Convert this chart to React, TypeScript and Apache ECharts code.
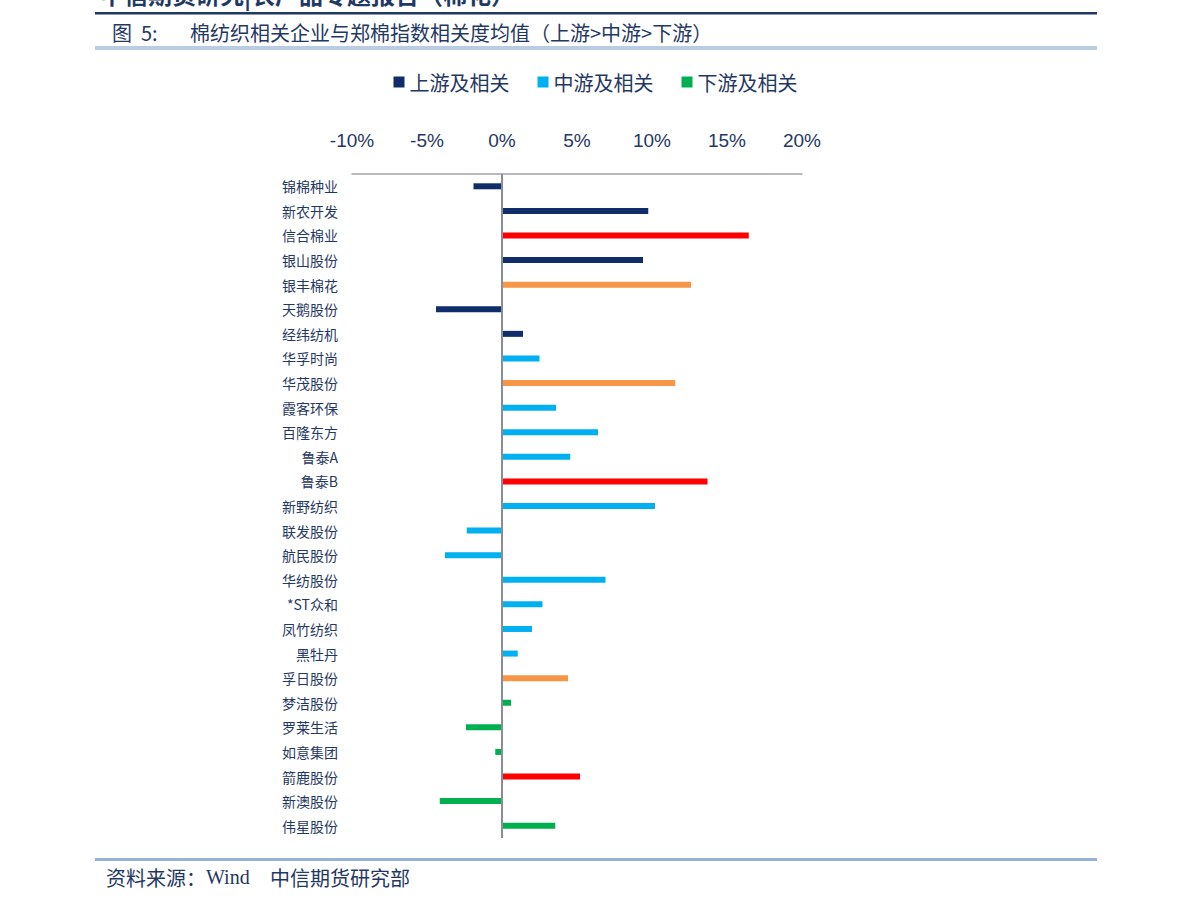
import { useEffect, useRef } from 'react';
import * as echarts from 'echarts';

const companies = [
  '锦棉种业', '新农开发', '信合棉业', '银山股份', '银丰棉花', '天鹅股份', '经纬纺机',
  '华孚时尚', '华茂股份', '霞客环保', '百隆东方', '鲁泰A', '鲁泰B', '新野纺织', '联发股份',
  '航民股份', '华纺股份', '*ST众和', '凤竹纺织', '黑牡丹', '孚日股份',
  '梦洁股份', '罗莱生活', '如意集团', '箭鹿股份', '新澳股份', '伟星股份',
];

// 相关度均值 (%)
const upstream = [-1.9, 9.75, 16.45, 9.4, 12.6, -4.4, 1.4];
const midstream = [2.5, 11.55, 3.6, 6.4, 4.55, 13.7, 10.2, -2.35, -3.8, 6.9, 2.7, 2.0, 1.05, 4.4];
const downstream = [0.6, -2.4, -0.45, 5.2, -4.15, 3.55];

// highlighted companies drawn in another colour
const redNames = ['信合棉业', '鲁泰B', '箭鹿股份'];
const orangeNames = ['银丰棉花', '华茂股份', '孚日股份'];

const xTicks = [-10, -5, 0, 5, 10, 15, 20];

const NAVY = '#0e2d69';
const BLUE = '#00b0f0';
const GREEN = '#00b050';
const RED = '#ff0000';
const ORANGE = '#f79646';
const TEXT = '#1f3864';

function buildSeriesData(values: number[], offset: number) {
  return companies.map((name, i) => {
    const k = i - offset;
    if (k < 0 || k >= values.length) return null;
    const v = values[k];
    if (redNames.includes(name)) return { value: v, itemStyle: { color: RED } };
    if (orangeNames.includes(name)) return { value: v, itemStyle: { color: ORANGE } };
    return v;
  });
}

export default function App() {
  const ref = useRef<HTMLDivElement | null>(null);

  useEffect(() => {
    document.body.style.margin = '0';
    if (!ref.current) return;
    const chart = echarts.init(ref.current, null, { renderer: 'svg' });
    const cjk = '"Noto Sans CJK SC", "Noto Sans", sans-serif';
    const barBase = { type: 'bar', stack: 'all', barWidth: 6 };
    chart.setOption({
      animation: false,
      backgroundColor: '#ffffff',
      textStyle: { fontFamily: cjk },
      legend: {
        top: 67,
        left: 'center',
        itemWidth: 11,
        itemHeight: 11,
        itemGap: 28,
        icon: 'rect',
        textStyle: { color: TEXT, fontSize: 20, fontFamily: cjk },
        data: ['上游及相关', '中游及相关', '下游及相关'],
      },
      grid: { left: 352, right: 389, top: 174, bottom: 69 },
      xAxis: {
        type: 'value',
        position: 'top',
        min: -10,
        max: 20,
        interval: 5,
        axisLine: { show: true, lineStyle: { color: '#a0a0a8', width: 1.5 } },
        axisTick: { show: false },
        splitLine: { show: false },
        axisLabel: {
          formatter: (v: number) => (xTicks.includes(v) ? `${v}%` : ''),
          color: TEXT,
          fontSize: 19,
          margin: 24,
          fontFamily: '"Liberation Sans", Arial, sans-serif',
        },
      },
      yAxis: {
        type: 'category',
        inverse: true,
        data: companies,
        axisLine: { show: false },
        axisTick: { show: false },
        axisLabel: { color: TEXT, fontSize: 14, margin: 14, fontFamily: cjk },
      },
      series: [
        {
          ...barBase,
          name: '上游及相关',
          itemStyle: { color: NAVY },
          data: buildSeriesData(upstream, 0),
          markLine: {
            silent: true,
            symbol: 'none',
            label: { show: false },
            lineStyle: { color: '#8c8c96', width: 2, type: 'solid' },
            data: [{ xAxis: 0 }],
          },
        },
        {
          ...barBase,
          name: '中游及相关',
          itemStyle: { color: BLUE },
          data: buildSeriesData(midstream, upstream.length),
        },
        {
          ...barBase,
          name: '下游及相关',
          itemStyle: { color: GREEN },
          data: buildSeriesData(downstream, upstream.length + midstream.length),
        },
      ],
      graphic: [
        {
          type: 'text',
          x: 100,
          y: 5,
          style: {
            text: '中信期货研究|农产品专题报告（棉花）',
            fill: TEXT,
            font: `bold 24px ${cjk}`,
            verticalAlign: 'bottom',
          },
        },
        { type: 'rect', shape: { x: 95, y: 12, width: 1002, height: 2.5 }, style: { fill: TEXT } },
        {
          type: 'text',
          x: 112,
          y: 32,
          style: { text: '图  5:', fill: TEXT, font: `20px ${cjk}`, verticalAlign: 'middle' },
        },
        {
          type: 'text',
          x: 190,
          y: 32,
          style: {
            text: '棉纺织相关企业与郑棉指数相关度均值（上游>中游>下游）',
            fill: TEXT,
            font: `20px ${cjk}`,
            verticalAlign: 'middle',
          },
        },
        { type: 'rect', shape: { x: 95, y: 46, width: 1002, height: 4 }, style: { fill: '#b8cce4' } },
        { type: 'rect', shape: { x: 95, y: 858, width: 1002, height: 3 }, style: { fill: '#95b3d7' } },
        {
          type: 'text',
          x: 106,
          y: 877,
          style: { text: '资料来源：', fill: TEXT, font: `20px ${cjk}`, verticalAlign: 'middle' },
        },
        {
          type: 'text',
          x: 206,
          y: 877,
          style: {
            text: 'Wind',
            fill: TEXT,
            font: '20px "Liberation Serif", "DejaVu Serif", serif',
            verticalAlign: 'middle',
          },
        },
        {
          type: 'text',
          x: 270,
          y: 877,
          style: { text: '中信期货研究部', fill: TEXT, font: `20px ${cjk}`, verticalAlign: 'middle' },
        },
      ],
    });
    return () => {
      chart.dispose();
    };
  }, []);

  return <div ref={ref} style={{ width: 1191, height: 907 }} />;
}
